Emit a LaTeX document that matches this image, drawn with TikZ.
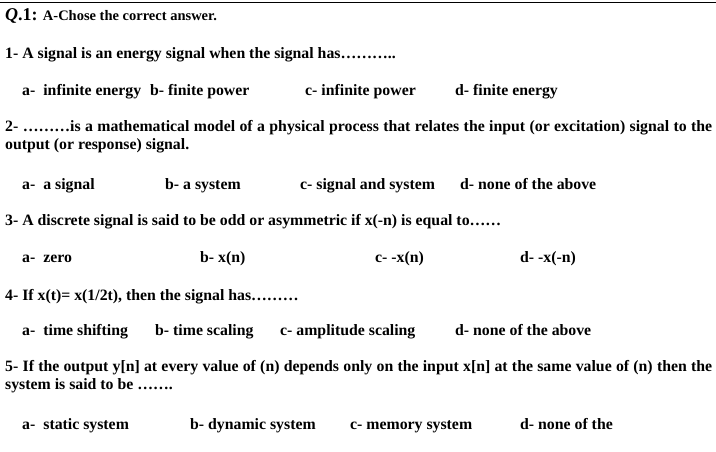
\documentclass[tikz,border=0pt]{standalone}
\usepackage{fontspec}
\setmainfont{Liberation Serif}
\begin{document}
\begin{tikzpicture}[x=1pt,y=-1pt,
  t/.style={anchor=base west,inner sep=0pt,font=\bfseries\fontsize{15.8}{18}\selectfont},
  para/.style={t,anchor=north west,text width=707pt,align=justify,font=\bfseries\fontsize{15.8}{18.5}\selectfont}]
\useasboundingbox[fill=white] (0,0) rectangle (716,451);
\coordinate (l1) at (0,2); \coordinate (l2) at (716,2);
\draw[line width=0.8pt] (l1) -- (l2);
\node[t] (q) at (5,20) {{\fontsize{18}{20}\selectfont\textit{Q}.1:} {\fontsize{14.5}{16}\selectfont A-Chose the correct answer.}};
\node[t] (s1) at (5,58) {1- A signal is an energy signal when the signal has………..};
\node[t] (o1a) at (22,95) {a-\hspace{8pt}infinite energy};
\node[t] (o1b) at (150,95) {b- finite power};
\node[t] (o1c) at (305,95) {c- infinite power};
\node[t] (o1d) at (455,95) {d- finite energy};
\node[para] (s2) at (5,120) {2- ………is a mathematical model of a physical process that relates the input (or excitation) signal to the output (or response) signal.};
\node[t] (o2a) at (22,189) {a-\hspace{8pt}a signal};
\node[t] (o2b) at (165,189) {b- a system};
\node[t] (o2c) at (300,189) {c- signal and system};
\node[t] (o2d) at (460,189) {d- none of the above};
\node[t] (s3) at (5,225) {3- A discrete signal is said to be odd or asymmetric if x(-n) is equal to……};
\node[t] (o3a) at (22,262) {a-\hspace{8pt}zero};
\node[t] (o3b) at (200,262) {b- x(n)};
\node[t] (o3c) at (375,262) {c- -x(n)};
\node[t] (o3d) at (520,262) {d- -x(-n)};
\node[t] (s4) at (5,300) {4- If x(t)= x(1/2t), then the signal has………};
\node[t] (o4a) at (22,335) {a-\hspace{8pt}time shifting};
\node[t] (o4b) at (155,335) {b- time scaling};
\node[t] (o4c) at (280,335) {c- amplitude scaling};
\node[t] (o4d) at (455,335) {d- none of the above};
\node[para] (s5) at (5,360) {5- If the output y[n] at every value of (n) depends only on the input x[n] at the same value of (n) then the system is said to be …….};
\node[t] (o5a) at (22,429) {a-\hspace{8pt}static system};
\node[t] (o5b) at (190,429) {b- dynamic system};
\node[t] (o5c) at (350,429) {c- memory system};
\node[t] (o5d) at (520,429) {d- none of the};
\end{tikzpicture}
\end{document}
